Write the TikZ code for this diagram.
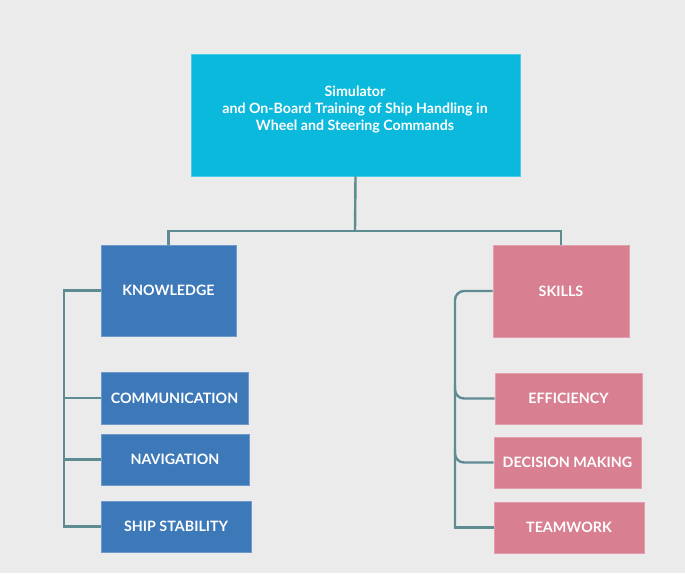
\documentclass[tikz,border=0pt]{standalone}
\usepackage{fontspec}
\setmainfont{Lato}
\usetikzlibrary{calc}
\definecolor{bgc}{RGB}{235,235,235}
\definecolor{topc}{RGB}{11,185,221}
\definecolor{bluec}{RGB}{61,120,185}
\definecolor{pinkc}{RGB}{216,128,146}
\definecolor{linec}{RGB}{94,140,146}
\tikzset{
  box/.style={rectangle, inner sep=0pt, text=white, font=\bfseries\fontsize{14.3}{17}\selectfont},
  bluebox/.style={box, fill=bluec, draw=bluec!75!white, line width=0.7pt},
  pinkbox/.style={box, fill=pinkc, draw=pinkc!75!white, line width=0.7pt},
  conn/.style={draw=linec, line width=2.4pt},
}
\begin{document}
\begin{tikzpicture}[x=1pt,y={(0,-1pt)}]
\fill[bgc] (0,0) rectangle (685,573);
\useasboundingbox (0,0) rectangle (685,573);
% top
\node[box, fill=topc, draw=topc!75!white, line width=0.7pt, minimum width=329pt, minimum height=122pt] (top) at (355.5,115) {};
\node[text=white, align=center, font=\bfseries\fontsize{14.2}{17}\selectfont] (toptext) at (355,110)
  {Simulator\\and On-Board Training of Ship Handling in\\Wheel and Steering Commands};
% left
\node[bluebox, minimum width=135pt, minimum height=91pt] (know) at (168.5,290.5) {KNOWLEDGE};
\node[bluebox, minimum width=147pt, minimum height=52pt] (comm) at (174.5,398) {COMMUNICATION};
\node[bluebox, minimum width=148pt, minimum height=51pt] (nav) at (175,459.5) {NAVIGATION};
\node[bluebox, minimum width=150pt, minimum height=51pt] (ship) at (176,526.5) {SHIP STABILITY};
% right
\node[pinkbox, minimum width=136pt, minimum height=92pt] (skills) at (561,291) {SKILLS};
\node[pinkbox, minimum width=147pt, minimum height=51pt] (eff) at (568.5,398.5) {EFFICIENCY};
\node[pinkbox, minimum width=147pt, minimum height=51pt] (dec) at (567.5,462.5) {DECISION MAKING};
\node[pinkbox, minimum width=150pt, minimum height=51pt] (team) at (569,527.5) {TEAMWORK};
% coordinates
\coordinate (bus) at (355,231);
\coordinate (ls) at (64,0);
\coordinate (rs) at (455,0);
% top connectors
\draw[conn] (top.south) -- (bus);
\draw[conn] (know.north) -- (know.north |- bus) -- (skills.north |- bus) -- (skills.north);
% left tree
\draw[conn] (know.west) -- (ls |- know.west) -- (ls |- ship.west) -- (ship.west);
\draw[conn] (ls |- comm.west) -- (comm.west);
\draw[conn] (ls |- nav.west) -- (nav.west);
% right tree
\draw[conn, rounded corners=9pt] (skills.west) -- (rs |- skills.west) -- (rs |- team.west);
\draw[conn] ($(rs |- team.west)+(0,-5)$) -- (rs |- team.west) -- (team.west);
\draw[conn, rounded corners=9pt] ($(rs |- eff.west)+(0,-14)$) -- (rs |- eff.west) -- (eff.west);
\draw[conn, rounded corners=9pt] ($(rs |- dec.west)+(0,-14)$) -- (rs |- dec.west) -- (dec.west);
\end{tikzpicture}
\end{document}
